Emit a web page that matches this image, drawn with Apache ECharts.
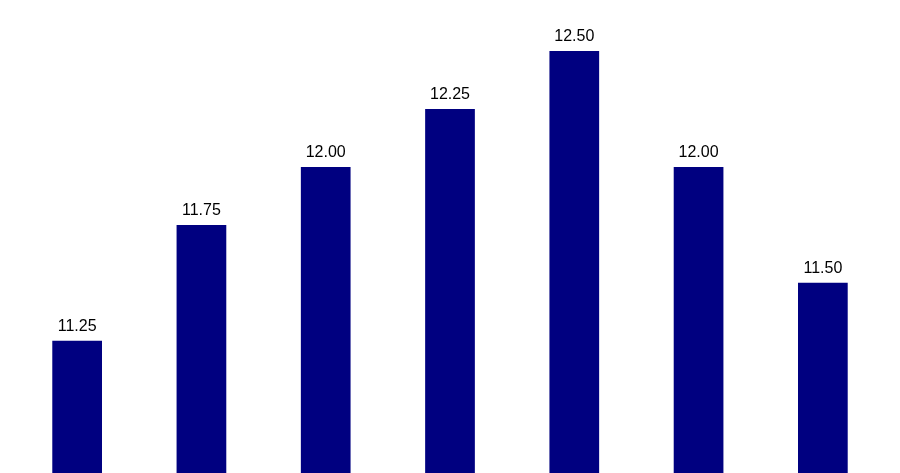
<!DOCTYPE html>
<html><head><meta charset="utf-8">
<script src="https://cdn.jsdelivr.net/npm/echarts@6/dist/echarts.min.js"></script>
<style>html,body{margin:0;padding:0;background:#fff}#c{width:900px;height:473px}</style>
</head><body><div id="c"></div>
<script>
const categories = ['1','2','3','4','5','6','7'];
const values = [11.25, 11.75, 12.00, 12.25, 12.50, 12.00, 11.50];
const chart = echarts.init(document.getElementById('c'), null, {renderer:'canvas'});
chart.setOption({
  animation:false,
  backgroundColor:'#ffffff',
  grid:{left:15, right:15, top:51, bottom:0},
  xAxis:{type:'category', data:categories, show:false},
  yAxis:{type:'value', min:10.68, max:12.5, show:false},
  series:[{
    type:'bar', data:values, barWidth:'40%',
    itemStyle:{color:'#000080'},
    label:{show:true, position:'top', distance:6, color:'#000', fontFamily:'"Liberation Sans", Arial, sans-serif', fontSize:16,
      formatter:p=>p.value.toFixed(2)}
  }]
});
</script></body></html>
